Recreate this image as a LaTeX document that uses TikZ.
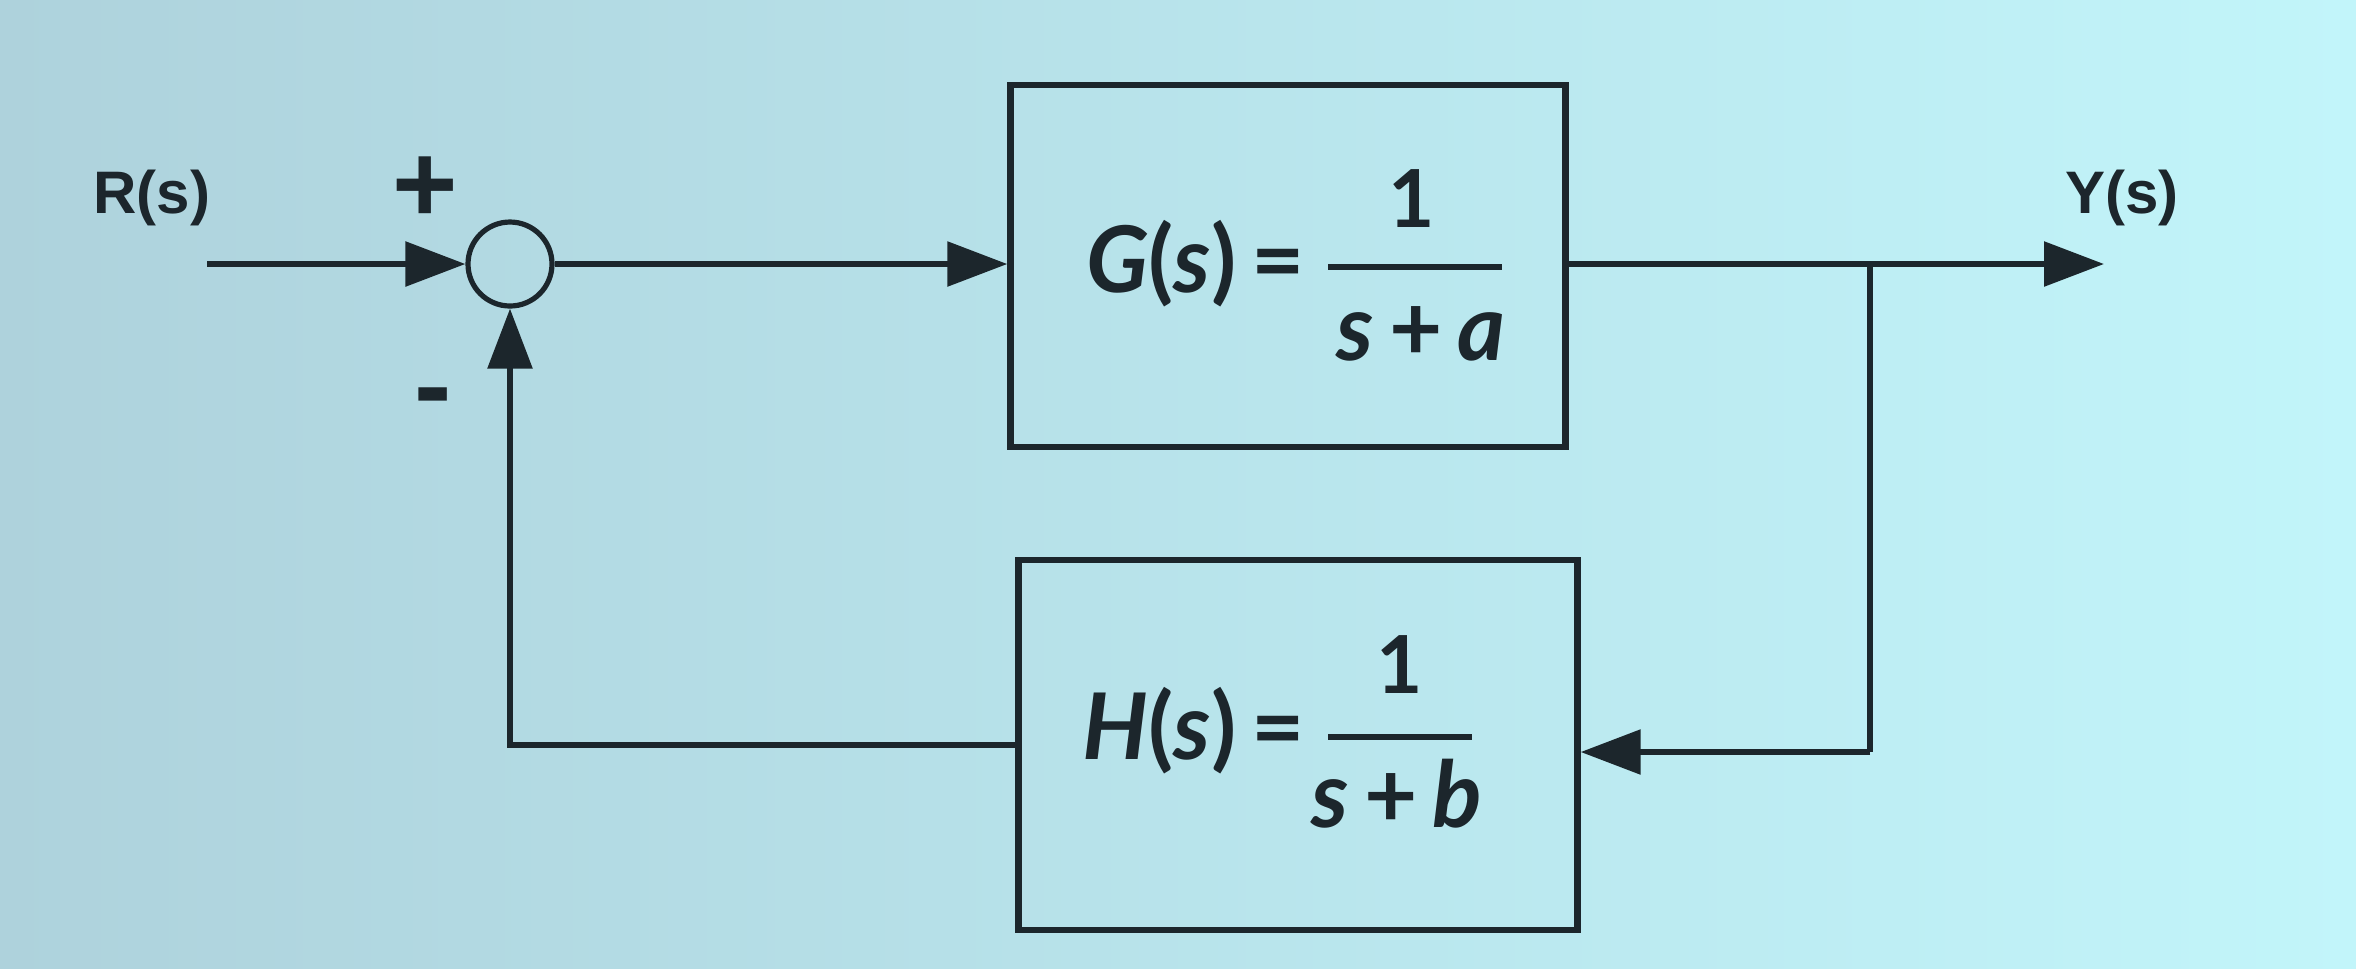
\documentclass[tikz,border=0pt]{standalone}
\usepackage{fontspec}
\setmainfont{Liberation Sans}
\newfontfamily\formfont{Lato}
\usetikzlibrary{arrows.meta}
\definecolor{inkc}{RGB}{28,38,44}
\definecolor{bgleft}{RGB}{174,210,220}
\definecolor{bgright}{RGB}{194,245,250}
\begin{document}
\begin{tikzpicture}[x=0.25pt,y=-0.25pt,
  ink/.style={draw=inkc, line width=1.45pt},
  blockbox/.style={draw=inkc, line width=1.6pt, rectangle, inner sep=0pt},
  sumnode/.style={draw=inkc, line width=1.3pt, circle, minimum size=21pt, inner sep=0pt},
  sig/.style={ink, -{Triangle[length=15pt,width=11pt]}},
  lbl/.style={font=\fontsize{15}{17}\selectfont\bfseries, text=inkc, inner sep=0pt},
  sign/.style={font=\fontsize{28}{30}\selectfont\bfseries, text=inkc, inner sep=0pt},
  form/.style={font=\formfont\bfseries\fontsize{20}{22}\selectfont, text=inkc, inner sep=0pt},
  formbig/.style={font=\formfont\bfseries\fontsize{23}{25}\selectfont, text=inkc, inner sep=0pt},
  fracbar/.style={draw=inkc, line width=1.5pt}]
  % background
  \shade[left color=bgleft, right color=bgright] (0,0) rectangle (2356,968);
  \useasboundingbox (0,0) rectangle (2356,968);

  % nodes
  \coordinate (in) at (207,264);
  \node[sumnode] (sum) at (510,264) {};
  \node[blockbox, minimum width=138.75pt, minimum height=90.5pt] (G) at (1288,266) {};
  \node[blockbox, minimum width=139.75pt, minimum height=92.5pt] (H) at (1298,745) {};
  \coordinate (out) at (2104,264);
  \coordinate (br) at (1870,264);
  \coordinate (brd) at (1870,752);
  \coordinate (fbl) at (510,745);

  % labels
  \node[lbl] (R) at (152,198) {R(s)};
  \node[lbl] (Y) at (2122,198) {Y(s)};
  \node[sign] (plus) at (425,190) {+};
  \node[sign] (minus) at (433,406) {-};

  % G formula
  \node[formbig, anchor=base east] (Gl) at (1306,292) {\itshape G\upshape(\itshape s\upshape)\,=};
  \draw[fracbar] (1328,267) -- (1502,267);
  \node[form, anchor=base] (Gn) at (1412,227) {1};
  \node[formbig, anchor=base] (Gd) at (1421,360) {\itshape s\upshape\,+\,\itshape a};

  % H formula
  \node[formbig, anchor=base east] (Hl) at (1306,759) {\itshape H\upshape(\itshape s\upshape)\,=};
  \draw[fracbar] (1328,737) -- (1472,737);
  \node[form, anchor=base] (Hn) at (1400,693) {1};
  \node[formbig, anchor=base] (Hd) at (1397,827) {\itshape s\upshape\,+\,\itshape b};

  % connectors
  \draw[sig] (in) -- (sum.west);
  \draw[sig] (sum.east) -- (sum.east -| G.west);
  \draw[sig] (G.east |- out) -- (out);
  \draw[ink] (br) -- (brd);
  \draw[sig] (brd) -- (brd -| H.east);
  \draw[sig] (H.west) -- (fbl) -- (sum.south);
\end{tikzpicture}
\end{document}
